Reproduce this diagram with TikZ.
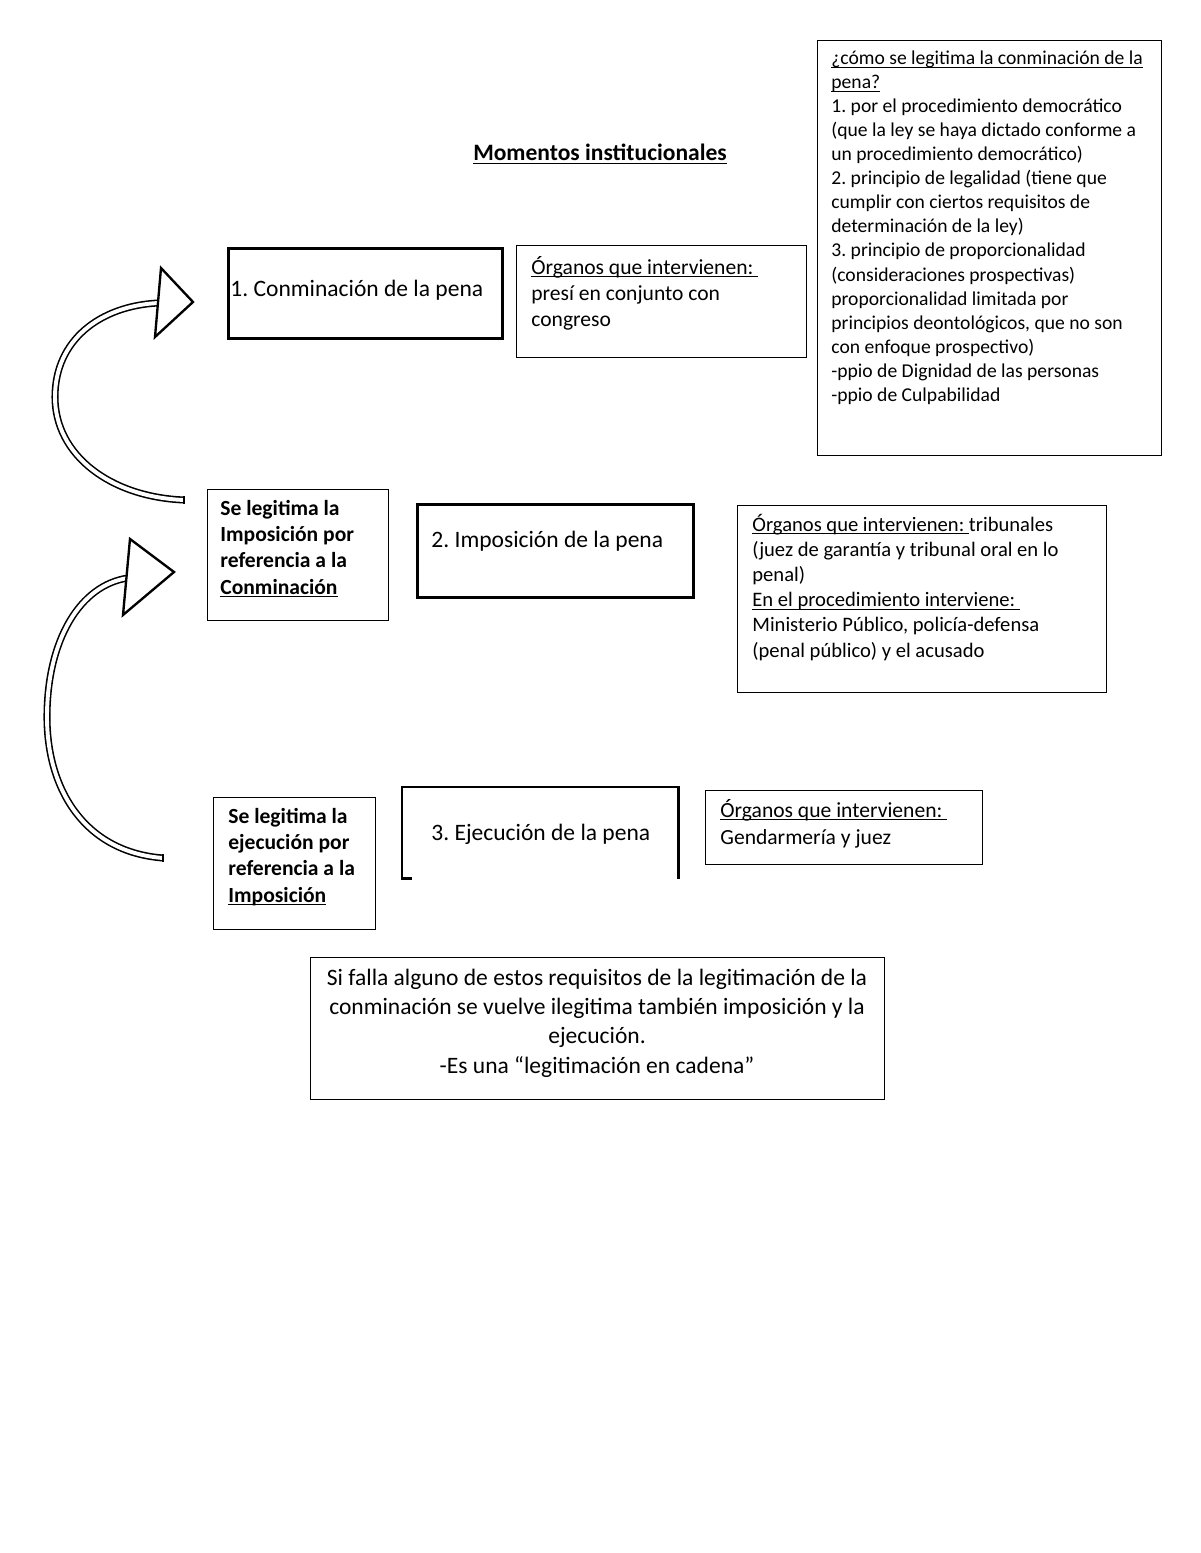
\documentclass[tikz,border=0pt]{standalone}
\usepackage{fontspec}
\setmainfont{Carlito}
\frenchspacing
\newsavebox\myulbox
\newcommand\myul[1]{\sbox\myulbox{#1}\rlap{\rule[-1.6pt]{\wd\myulbox}{0.55pt}}\usebox\myulbox}
\begin{document}
\frenchspacing
\begin{tikzpicture}[x=0.51pt,y=-0.51pt,
  thinbox/.style={draw, line width=0.75pt, anchor=north west, inner sep=0pt},
  thickbox/.style={draw, line width=1.5pt, anchor=north west, inner sep=0pt},
  txt/.style={inner sep=0pt, align=left, anchor=base west},
  dblarrow/.style={draw, double=white, double distance=2pt, line width=0.8pt},
  headstyle/.style={draw, fill=white, line width=1.2pt, line join=miter}]
\useasboundingbox (0,0) rectangle (1200,1553);

% boxes
\node[thinbox, minimum width=344*0.51pt, minimum height=415*0.51pt] (tr) at (817,40) {};
\node[thickbox, minimum width=274*0.51pt, minimum height=90*0.51pt] (b1) at (227,247) {};
\node[thinbox, minimum width=290*0.51pt, minimum height=112*0.51pt] (o1) at (516,245) {};
\node[thinbox, minimum width=181*0.51pt, minimum height=131*0.51pt] (s1) at (207,489) {};
\node[thickbox, minimum width=276*0.51pt, minimum height=93*0.51pt] (b2) at (416,503) {};
\node[thinbox, minimum width=369*0.51pt, minimum height=187*0.51pt] (o2) at (737,505) {};
\node[thinbox, minimum width=162*0.51pt, minimum height=132*0.51pt] (s2) at (213,797) {};
\node[anchor=north west, inner sep=0pt, minimum width=276*0.51pt, minimum height=91*0.51pt] (b3) at (402,787) {};
\draw[line width=1.5pt] ([xshift=5pt]b3.south west) -- (b3.south west) -- (b3.north west) -- (b3.north east) -- (b3.south east);
\node[thinbox, minimum width=277*0.51pt, minimum height=74*0.51pt] (o3) at (705,790) {};
\node[thinbox, minimum width=574*0.51pt, minimum height=142*0.51pt] (bt) at (310,957) {};

% texts (anchor = baseline of the last line)
\node[inner sep=0pt, anchor=base, font=\bfseries\fontsize{12}{14}\selectfont] (title) at (600,161) {\myul{Momentos institucionales}};

\node[txt, font=\fontsize{10}{12.24}\selectfont] (trt) at (831,401) {\myul{¿cómo se legitima la conminación de la}\\
\myul{pena?}\\
1. por el procedimiento democrático\\
(que la ley se haya dictado conforme a\\
un procedimiento democrático)\\
2. principio de legalidad (tiene que\\
cumplir con ciertos requisitos de\\
determinación de la ley)\\
3. principio de proporcionalidad\\
(consideraciones prospectivas)\\
proporcionalidad limitada por\\
principios deontológicos, que no son\\
con enfoque prospectivo)\\
-ppio de Dignidad de las personas\\
-ppio de Culpabilidad};

\node[txt, font=\fontsize{12}{14}\selectfont] (b1t) at (230,297) {1. Conminación de la pena};
\node[txt, font=\fontsize{11}{13.2}\selectfont] (o1t) at (531,326) {\myul{Órganos que intervienen:\ }\\presí en conjunto con\\congreso};

\node[txt, font=\bfseries\fontsize{11}{13.4}\selectfont] (s1t) at (220,594) {Se legitima la\\Imposición por\\referencia a la\\\myul{Conminación}};
\node[txt, font=\fontsize{12}{14}\selectfont] (b2t) at (431,547) {2. Imposición de la pena};
\node[txt, font=\fontsize{10.5}{12.85}\selectfont] (o2t) at (752,657) {\myul{Órganos que intervienen:\ }tribunales\\(juez de garantía y tribunal oral en lo\\penal)\\\myul{En el procedimiento interviene:\ }\\Ministerio Público, policía-defensa\\(penal público) y el acusado};

\node[txt, font=\bfseries\fontsize{11}{13.4}\selectfont] (s2t) at (228,902) {Se legitima la\\ejecución por\\referencia a la\\\myul{Imposición}};
\node[txt, font=\fontsize{12}{14}\selectfont] (b3t) at (431,840) {3. Ejecución de la pena};
\node[txt, font=\fontsize{11}{13.6}\selectfont] (o3t) at (720,844) {\myul{Órganos que intervienen:\ }\\Gendarmería y juez};

\node[inner sep=0pt, align=center, anchor=base, font=\fontsize{12}{14.8}\selectfont] (btt) at (597,1073) {Si falla alguno de estos requisitos de la legitimación de la\\conminación se vuelve ilegitima también imposición y la\\ejecución.\\-Es una “legitimación en cadena”};

% upper curved arrow
\coordinate (a1s) at (184,500);
\coordinate (a1l) at (55,397);
\coordinate (a1e) at (158,303);
\draw[dblarrow] (a1s) .. controls (110,497) and (55,455) .. (a1l) .. controls (55,340) and (100,306) .. (a1e);
\draw[line width=0.8pt] (184,496) -- (184,504);
\coordinate (h1a) at (161,268);
\coordinate (h1b) at (193,302);
\coordinate (h1c) at (155,337);
\draw[headstyle] (h1a) -- (h1b) -- (h1c) -- cycle;

% lower curved arrow
\coordinate (a2s) at (163,858);
\coordinate (a2l) at (47,717);
\coordinate (a2e) at (128,578);
\draw[dblarrow] (a2s) .. controls (85,852) and (47,790) .. (a2l) .. controls (47,640) and (80,585) .. (a2e);
\draw[line width=0.8pt] (163,854) -- (163,862);
\coordinate (h2a) at (130,539);
\coordinate (h2b) at (174,572);
\coordinate (h2c) at (123,615);
\draw[headstyle] (h2a) -- (h2b) -- (h2c) -- cycle;
\end{tikzpicture}
\end{document}
